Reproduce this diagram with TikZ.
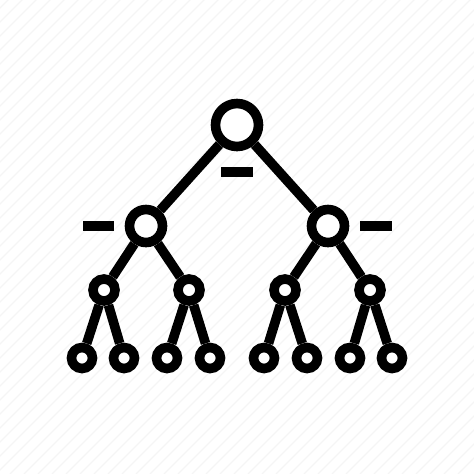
\documentclass[tikz,border=0pt]{standalone}
\begin{document}
\begin{tikzpicture}[x=1pt,y=-1pt,
  ring/.style={circle,draw=black,line width=9.6pt,inner sep=0pt,fill=white},
  rootring/.style={ring,minimum size=43pt},
  midring/.style={ring,minimum size=33pt},
  smallring/.style={ring,minimum size=22pt},
  leafring/.style={ring,minimum size=21pt},
  link/.style={line width=9.6pt,black},
  minusbar/.style={fill=black}]
\path[use as bounding box,fill=white] (0,0) rectangle (474,474);
\begin{scope}
\clip (0,0) rectangle (474,474);
\foreach \k in {0,14,...,950}{
  \draw[black!4,line width=1.2pt] (\k-480,474) -- (\k,-6);
}
\end{scope}
% nodes
\node[rootring] (r) at (237,125) {};
\node[midring] (a) at (146,226) {};
\node[midring] (b) at (328,226) {};
\node[smallring] (a1) at (104,290) {};
\node[smallring] (a2) at (189,290) {};
\node[smallring] (b1) at (285,290) {};
\node[smallring] (b2) at (370,290) {};
\node[leafring] (l1) at (82,358) {};
\node[leafring] (l2) at (124,358) {};
\node[leafring] (l3) at (167,358) {};
\node[leafring] (l4) at (210,358) {};
\node[leafring] (l5) at (264,358) {};
\node[leafring] (l6) at (307,358) {};
\node[leafring] (l7) at (350,358) {};
\node[leafring] (l8) at (392,358) {};
% links
\draw[link] (r) -- (a);
\draw[link] (r) -- (b);
\draw[link] (a) -- (a1);
\draw[link] (a) -- (a2);
\draw[link] (b) -- (b1);
\draw[link] (b) -- (b2);
\draw[link] (a1) -- (l1);
\draw[link] (a1) -- (l2);
\draw[link] (a2) -- (l3);
\draw[link] (a2) -- (l4);
\draw[link] (b1) -- (l5);
\draw[link] (b1) -- (l6);
\draw[link] (b2) -- (l7);
\draw[link] (b2) -- (l8);
% minus signs
\fill[minusbar] (221,167) rectangle (253,177);
\fill[minusbar] (83,221) rectangle (114,231);
\fill[minusbar] (360,221) rectangle (392,231);
\end{tikzpicture}
\end{document}
